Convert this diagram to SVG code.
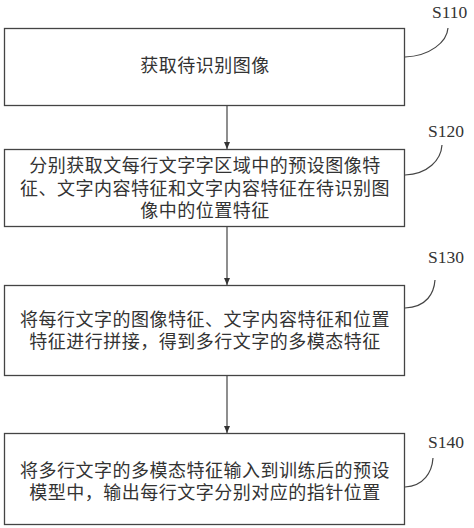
<svg xmlns="http://www.w3.org/2000/svg" width="474" height="528" viewBox="0 0 474 528">
<style>
.box{fill:#fff;stroke:#444;stroke-width:1.3}
.t{font-family:"Noto Sans CJK SC","Noto Sans",sans-serif;font-size:18px;fill:#333;text-anchor:middle;letter-spacing:0.5px}
.lb{font-family:"Liberation Serif",serif;font-size:17.5px;fill:#333}
.ln{fill:none;stroke:#444;stroke-width:1.2}
</style>
<defs>
<marker id="ah" markerWidth="8" markerHeight="8" refX="7" refY="4" orient="auto" markerUnits="userSpaceOnUse">
<path d="M0,1 L7,4 L0,7 Z" fill="#333"/>
</marker>
</defs>
<rect width="474" height="528" fill="#fff"/>
<g id="connectors">
<line class="ln" x1="227" y1="106" x2="227" y2="149" marker-end="url(#ah)"/>
<line class="ln" x1="227" y1="227" x2="227" y2="285" marker-end="url(#ah)"/>
<line class="ln" x1="227" y1="376" x2="227" y2="433" marker-end="url(#ah)"/>
<path class="ln" d="M405,57 C430,56 447,42 448,28"/>
<path class="ln" d="M405,175 C428,174 441,160 442,145"/>
<path class="ln" d="M405,308 C427,307 434,293 435,280"/>
<path class="ln" d="M405,487 C424,486 432,472 433,458"/>
</g>
<g id="s110">
<rect class="box" x="4.5" y="28.5" width="400" height="77"/>
<text class="t" x="205" y="72">获取待识别图像</text>
<text class="lb" x="432" y="18">S110</text>
</g>
<g id="s120">
<rect class="box" x="4.5" y="149.5" width="400" height="77"/>
<text class="t" x="205" y="172">分别获取文每行文字字区域中的预设图像特</text>
<text class="t" x="205" y="194.5">征、文字内容特征和文字内容特征在待识别图</text>
<text class="t" x="205" y="217">像中的位置特征</text>
<text class="lb" x="428" y="137">S120</text>
</g>
<g id="s130">
<rect class="box" x="4.5" y="285.5" width="400" height="90"/>
<text class="t" x="205" y="326">将每行文字的图像特征、文字内容特征和位置</text>
<text class="t" x="205" y="348">特征进行拼接，得到多行文字的多模态特征</text>
<text class="lb" x="428" y="263">S130</text>
</g>
<g id="s140">
<rect class="box" x="4.5" y="433.5" width="400" height="91"/>
<text class="t" x="205" y="477">将多行文字的多模态特征输入到训练后的预设</text>
<text class="t" x="205" y="499">模型中，输出每行文字分别对应的指针位置</text>
<text class="lb" x="428" y="448">S140</text>
</g>
</svg>
